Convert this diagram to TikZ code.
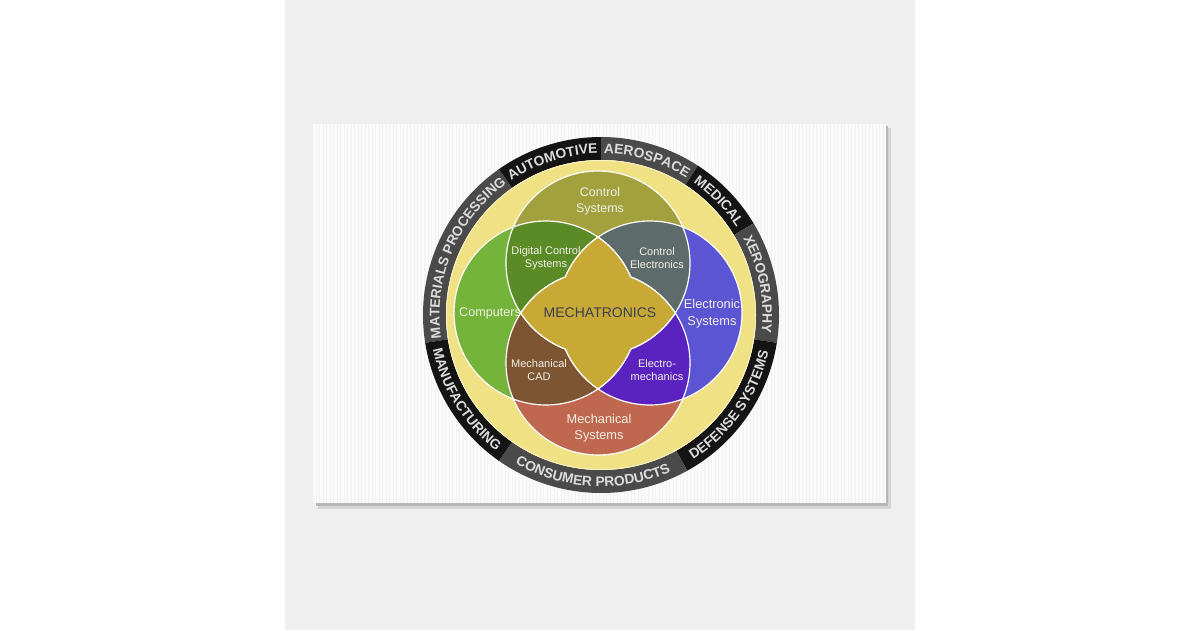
\documentclass[tikz,border=0pt]{standalone}
\usepackage{fontspec}
\setmainfont{Liberation Sans}
\usetikzlibrary{calc,decorations.text}
\definecolor{bggray}{HTML}{EFEFEF}
\definecolor{board}{HTML}{FAFAFA}
\definecolor{stripe}{HTML}{F2F2F2}
\definecolor{shadowc}{HTML}{B8B8B8}
\definecolor{ringblack}{HTML}{141414}
\definecolor{ringgray}{HTML}{4A4A4A}
\definecolor{ringtxt}{HTML}{DCDCDC}
\definecolor{discyellow}{HTML}{F0E184}
\definecolor{cctl}{HTML}{A2A13E}
\definecolor{ccomp}{HTML}{74B43A}
\definecolor{celec}{HTML}{5B55D4}
\definecolor{cmech}{HTML}{C0674F}
\definecolor{cdcs}{HTML}{5B8B27}
\definecolor{cce}{HTML}{5D6B6B}
\definecolor{ccad}{HTML}{7D5533}
\definecolor{cem}{HTML}{5A22BE}
\definecolor{cmt}{HTML}{C8A936}
\definecolor{lblc}{HTML}{F2F0E4}
\definecolor{mtxt}{HTML}{3B4050}
\newcommand\ringfnt{\fontsize{13.8}{15}\selectfont\bfseries}
\newcommand\ringseg[3]{\fill[#3] ($(O)+(#1:178)$) arc[start angle=#1,end angle=#2,radius=178] -- ($(O)+(#2:155)$) arc[start angle=#2,end angle=#1,radius=155] -- cycle;}
\newcommand\ringlabel[4]{\path[decorate,decoration={text along path,text align=center,text color=ringtxt,text={|\ringfnt|#4}}] ($(O)+(#1:#3)$) arc[start angle=#1,end angle=#2,radius=#3];}
\tikzset{
  lbl/.style={text=lblc, inner sep=0pt, align=center},
  outl/.style={draw=white, line width=1.2pt},
}
\begin{document}
\begin{tikzpicture}[x=1pt,y=1pt]
\useasboundingbox (0,0) rectangle (1200,630);
\fill[white] (0,0) rectangle (1200,630);
\fill[bggray] (285,0) rectangle (915,630);
% board with shadow
\fill[shadowc!45!bggray] (318,121) rectangle (891,502);
\fill[shadowc] (316,124) rectangle (888,504);
\fill[board] (313,127) rectangle (886,506);
\foreach \x in {316,319.5,...,884} \draw[stripe, line width=0.7pt] (\x,127) -- (\x,506);
% ring
\coordinate (O) at (601,315);
\ringseg{125}{189}{ringgray}
\ringseg{90}{125}{ringblack}
\ringseg{57}{90}{ringgray}
\ringseg{31}{57}{ringblack}
\ringseg{-9}{31}{ringgray}
\ringseg{-61}{-9}{ringblack}
\ringseg{-125}{-61}{ringgray}
\ringseg{189}{235}{ringblack}
\ringlabel{191}{123}{161.5}{MATERIALS PROCESSING}
\ringlabel{125}{90}{161.5}{AUTOMOTIVE}
\ringlabel{90}{57}{161.5}{AEROSPACE}
\ringlabel{57}{31}{161.5}{MEDICAL}
\ringlabel{31}{-9}{161.5}{XEROGRAPHY}
\ringlabel{-61}{-9}{171.5}{DEFENSE SYSTEMS}
\ringlabel{-125}{-61}{171.5}{CONSUMER PRODUCTS}
\ringlabel{189}{235}{171.5}{MANUFACTURING}
% yellow disc
\fill[discyellow] (O) circle[radius=155];
\draw[discyellow!50!white, line width=1pt] (O) circle[radius=154.5];
% Venn circles
\begin{scope}[shift={(598,317)}]
\coordinate (T) at (0,50);
\coordinate (B) at (0,-50);
\coordinate (L) at (-52,0);
\coordinate (R) at (52,0);
\fill[cctl] (T) circle[radius=92];
\fill[cmech] (B) circle[radius=92];
\fill[ccomp] (L) circle[radius=92];
\fill[celec] (R) circle[radius=92];
\begin{scope}\clip (T) circle[radius=92]; \fill[cdcs] (L) circle[radius=92]; \end{scope}
\begin{scope}\clip (T) circle[radius=92]; \fill[cce] (R) circle[radius=92]; \end{scope}
\begin{scope}\clip (B) circle[radius=92]; \fill[ccad] (L) circle[radius=92]; \end{scope}
\begin{scope}\clip (B) circle[radius=92]; \fill[cem] (R) circle[radius=92]; \end{scope}
\draw[outl] (T) circle[radius=92];
\draw[outl] (B) circle[radius=92];
\draw[outl] (L) circle[radius=92];
\draw[outl] (R) circle[radius=92];
% central star
\path[fill=cmt, outl, line join=round] (0,75.895)
  arc[start angle=55.582, end angle=23.04, radius=92]
  arc[start angle=69.21, end angle=32.92, radius=92]
  arc[start angle=327.08, end angle=290.79, radius=92]
  arc[start angle=-23.04, end angle=-55.582, radius=92]
  arc[start angle=235.582, end angle=203.04, radius=92]
  arc[start angle=249.21, end angle=212.92, radius=92]
  arc[start angle=147.08, end angle=110.79, radius=92]
  arc[start angle=156.96, end angle=124.418, radius=92] -- cycle;
% labels
\node[lbl, font=\fontsize{12.5}{16.5}\selectfont] (ctl) at (2,111.5) {Control\\Systems};
\node[lbl, font=\fontsize{11}{13}\selectfont] (dcs) at (-52,54.5) {Digital Control\\Systems};
\node[lbl, font=\fontsize{11}{13}\selectfont] (ce) at (59,54.5) {Control\\Electronics};
\node[lbl, font=\fontsize{12.6}{16}\selectfont] (comp) at (-108,0) {Computers};
\node[text=mtxt, inner sep=0pt, font=\fontsize{14}{16}\selectfont] (mt) at (2,0) {MECHATRONICS};
\node[lbl, font=\fontsize{12.8}{16.5}\selectfont] (es) at (114,-0.5) {Electronic\\Systems};
\node[lbl, font=\fontsize{11}{12.5}\selectfont] (cad) at (-59,-57) {Mechanical\\CAD};
\node[lbl, font=\fontsize{11}{12.5}\selectfont] (em) at (59,-57) {Electro-\\mechanics};
\node[lbl, font=\fontsize{12.8}{16}\selectfont] (ms) at (1,-115) {Mechanical\\Systems};
\end{scope}
\end{tikzpicture}
\end{document}
